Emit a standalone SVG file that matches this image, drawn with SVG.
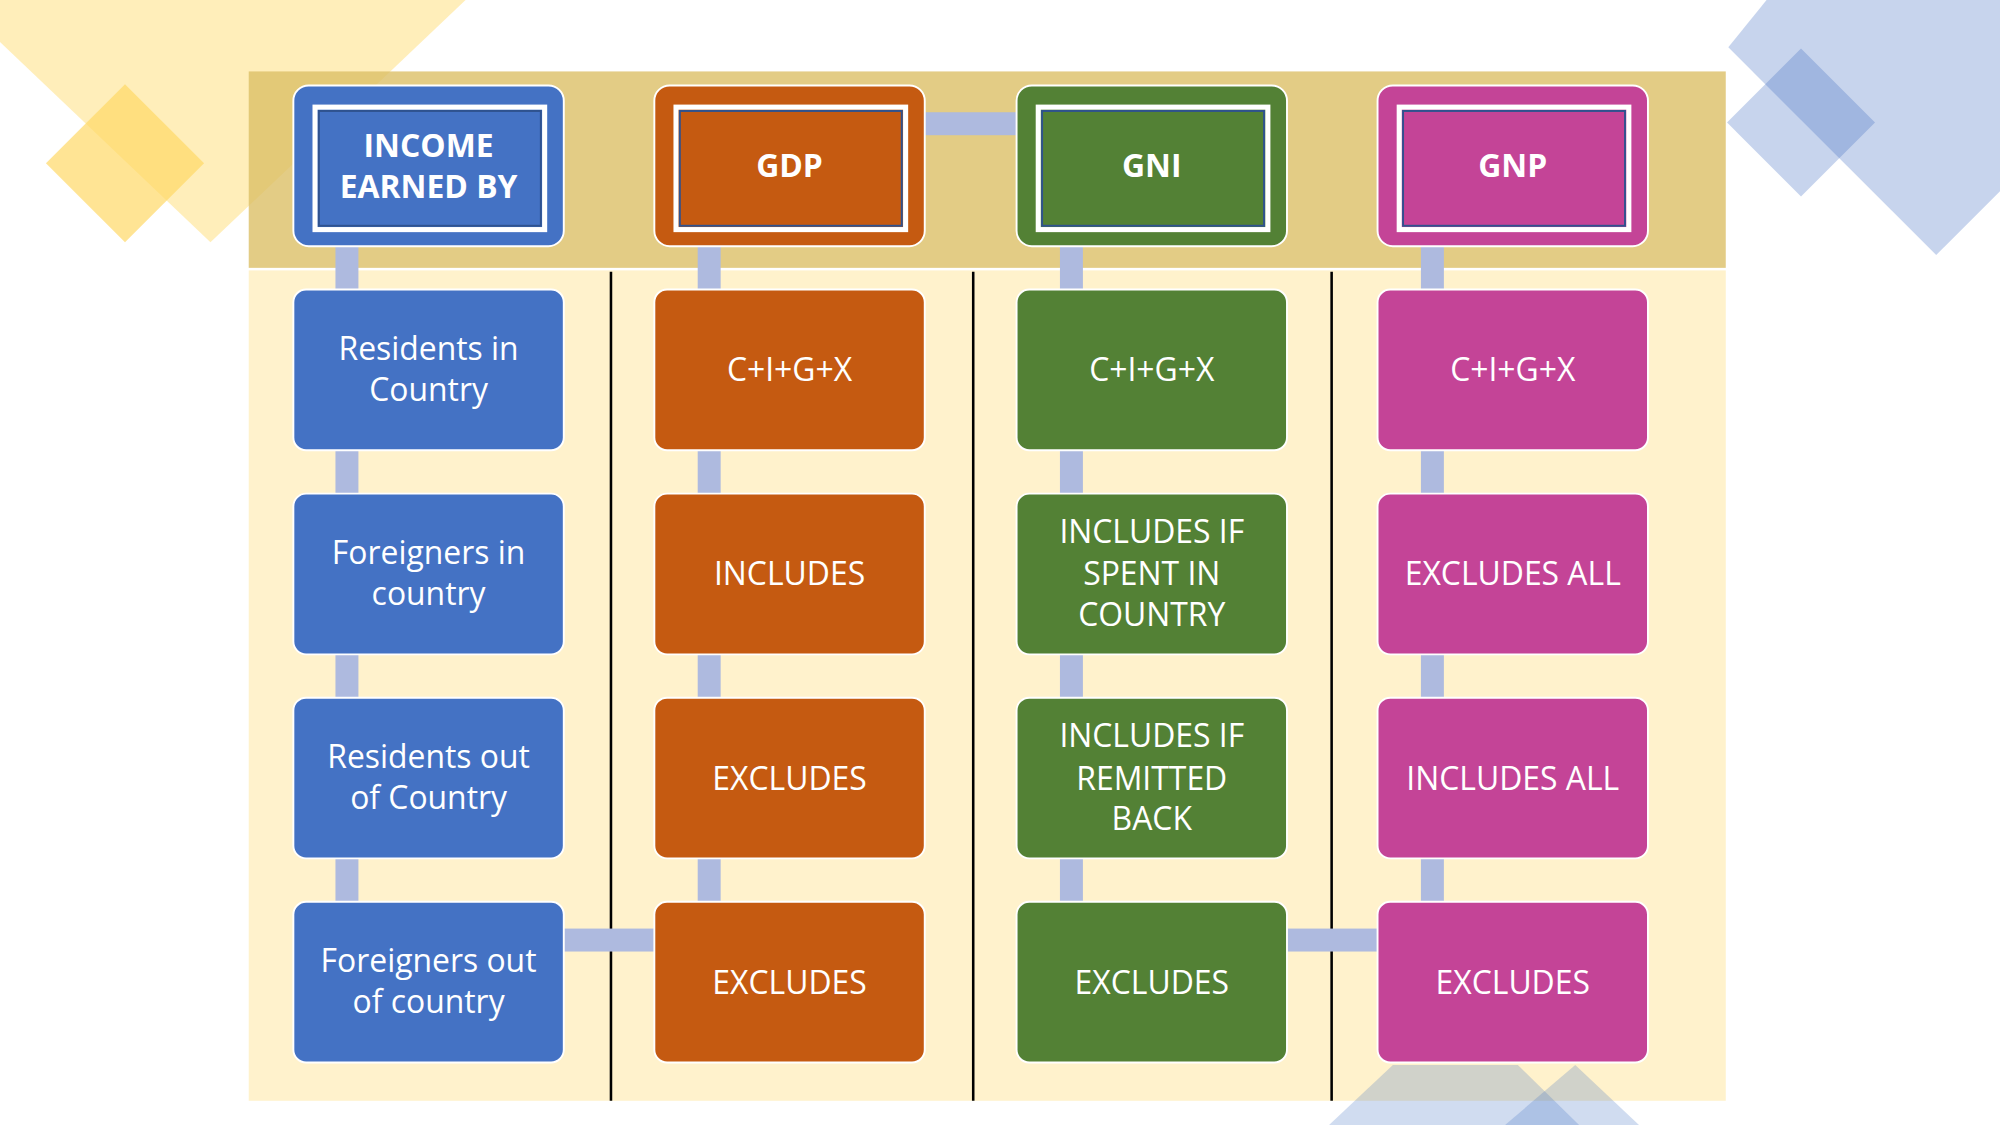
<svg xmlns="http://www.w3.org/2000/svg" width="2000" height="1125" viewBox="0 0 2000 1125">
<style>
.t{font-family:"Open Sans","Liberation Sans",sans-serif;font-size:25px;fill:#fff;text-anchor:middle}
.h{font-weight:bold}
.c{fill:#aebadf}
.n{stroke:#fff;stroke-width:1.5}
.in{fill:none;stroke:#fff;stroke-width:4}
.in2{fill:none;stroke:#2f528f;stroke-width:1.5}
</style>
<rect width="2000" height="1125" fill="#fff"/>
<g transform="scale(1.27551)">
<g id="decor">
<polygon points="0,0 365,0 165,190 0,33" fill="#ffd966" opacity="0.45"/>
<polygon points="98,66 160,128 98,190 36,128" fill="#ffd966" opacity="0.7"/>
<polygon points="1385,0 1568,0 1568,150 1518,200 1355,37" fill="#4472c4" opacity="0.3"/>
<polygon points="1412,38 1470,96 1412,154 1354,96" fill="#4472c4" opacity="0.3"/>
</g>
<rect x="195" y="56" width="1158" height="154" fill="#dcbf66" opacity="0.8"/>
<rect x="195" y="212" width="1158" height="651" fill="#fff2cc"/>
<g id="decor2">
<polygon points="1042,882 1092,835 1190,835 1238,882" fill="#4472c4" opacity="0.25"/>
<polygon points="1180,882 1235,835 1285,882" fill="#4472c4" opacity="0.25"/>
</g>
<g stroke="#000" stroke-width="2">
<line x1="479" y1="213" x2="479" y2="863"/>
<line x1="763" y1="213" x2="763" y2="863"/>
<line x1="1044" y1="213" x2="1044" y2="863"/>
</g>
<g id="connectors">
<rect class="c" x="263" y="193" width="18" height="34"/><rect class="c" x="263" y="353" width="18" height="34"/><rect class="c" x="263" y="513" width="18" height="34"/><rect class="c" x="263" y="673" width="18" height="34"/>
<rect class="c" x="547" y="193" width="18" height="34"/><rect class="c" x="547" y="353" width="18" height="34"/><rect class="c" x="547" y="513" width="18" height="34"/><rect class="c" x="547" y="673" width="18" height="34"/>
<rect class="c" x="831" y="193" width="18" height="34"/><rect class="c" x="831" y="353" width="18" height="34"/><rect class="c" x="831" y="513" width="18" height="34"/><rect class="c" x="831" y="673" width="18" height="34"/>
<rect class="c" x="1114" y="193" width="18" height="34"/><rect class="c" x="1114" y="353" width="18" height="34"/><rect class="c" x="1114" y="513" width="18" height="34"/><rect class="c" x="1114" y="673" width="18" height="34"/>
<rect class="c" x="725" y="88" width="72" height="18"/>
<rect class="c" x="442" y="728" width="71" height="18"/>
<rect class="c" x="1009" y="728" width="71" height="18"/>
</g>
<g id="h1"><rect class="n" x="230" y="67" width="212" height="126" rx="12" fill="#4472c4"/><rect class="in" x="247" y="84" width="180" height="96"/><rect class="in2" x="250" y="87" width="174" height="90"/><text class="t h" x="336" y="123">INCOME</text><text class="t h" x="336" y="155">EARNED BY</text></g>
<g id="h2"><rect class="n" x="513" y="67" width="212" height="126" rx="12" fill="#c55a11"/><rect class="in" x="530" y="84" width="180" height="96"/><rect class="in2" x="533" y="87" width="174" height="90"/><text class="t h" x="619" y="139">GDP</text></g>
<g id="h3"><rect class="n" x="797" y="67" width="212" height="126" rx="12" fill="#538135"/><rect class="in" x="814" y="84" width="180" height="96"/><rect class="in2" x="817" y="87" width="174" height="90"/><text class="t h" x="903" y="139">GNI</text></g>
<g id="h4"><rect class="n" x="1080" y="67" width="212" height="126" rx="12" fill="#c44497"/><rect class="in" x="1097" y="84" width="180" height="96"/><rect class="in2" x="1100" y="87" width="174" height="90"/><text class="t h" x="1186" y="139">GNP</text></g>

<g id="a1"><rect class="n" x="230" y="227" width="212" height="126" rx="10" fill="#4472c4"/><text class="t" x="336" y="282">Residents in</text><text class="t" x="336" y="314">Country</text></g>
<g id="a2"><rect class="n" x="230" y="387" width="212" height="126" rx="10" fill="#4472c4"/><text class="t" x="336" y="442">Foreigners in</text><text class="t" x="336" y="474">country</text></g>
<g id="a3"><rect class="n" x="230" y="547" width="212" height="126" rx="10" fill="#4472c4"/><text class="t" x="336" y="602">Residents out</text><text class="t" x="336" y="634">of Country</text></g>
<g id="a4"><rect class="n" x="230" y="707" width="212" height="126" rx="10" fill="#4472c4"/><text class="t" x="336" y="762">Foreigners out</text><text class="t" x="336" y="794">of country</text></g>

<g id="b1"><rect class="n" x="513" y="227" width="212" height="126" rx="10" fill="#c55a11"/><text class="t" x="619" y="299">C+I+G+X</text></g>
<g id="b2"><rect class="n" x="513" y="387" width="212" height="126" rx="10" fill="#c55a11"/><text class="t" x="619" y="459">INCLUDES</text></g>
<g id="b3"><rect class="n" x="513" y="547" width="212" height="126" rx="10" fill="#c55a11"/><text class="t" x="619" y="619">EXCLUDES</text></g>
<g id="b4"><rect class="n" x="513" y="707" width="212" height="126" rx="10" fill="#c55a11"/><text class="t" x="619" y="779">EXCLUDES</text></g>

<g id="c1"><rect class="n" x="797" y="227" width="212" height="126" rx="10" fill="#538135"/><text class="t" x="903" y="299">C+I+G+X</text></g>
<g id="c2"><rect class="n" x="797" y="387" width="212" height="126" rx="10" fill="#538135"/><text class="t" x="903" y="426">INCLUDES IF</text><text class="t" x="903" y="459">SPENT IN</text><text class="t" x="903" y="491">COUNTRY</text></g>
<g id="c3"><rect class="n" x="797" y="547" width="212" height="126" rx="10" fill="#538135"/><text class="t" x="903" y="586">INCLUDES IF</text><text class="t" x="903" y="619">REMITTED</text><text class="t" x="903" y="651">BACK</text></g>
<g id="c4"><rect class="n" x="797" y="707" width="212" height="126" rx="10" fill="#538135"/><text class="t" x="903" y="779">EXCLUDES</text></g>

<g id="d1"><rect class="n" x="1080" y="227" width="212" height="126" rx="10" fill="#c44497"/><text class="t" x="1186" y="299">C+I+G+X</text></g>
<g id="d2"><rect class="n" x="1080" y="387" width="212" height="126" rx="10" fill="#c44497"/><text class="t" x="1186" y="459">EXCLUDES ALL</text></g>
<g id="d3"><rect class="n" x="1080" y="547" width="212" height="126" rx="10" fill="#c44497"/><text class="t" x="1186" y="619">INCLUDES ALL</text></g>
<g id="d4"><rect class="n" x="1080" y="707" width="212" height="126" rx="10" fill="#c44497"/><text class="t" x="1186" y="779">EXCLUDES</text></g>
</g>
</svg>
